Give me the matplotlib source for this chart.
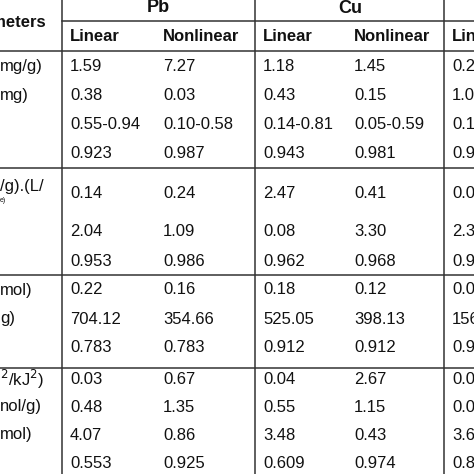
import matplotlib.pyplot as plt

# Table contents (cropped reference: left labels and third metal column are cut off)
param_labels = ["mg/g)", "mg)", "", "",
                "/g).(L/", "", "",
                "mol)", "g)", "",
                "$^2$/kJ$^2$)", "nol/g)", "mol)", ""]
pb_linear = ["1.59", "0.38", "0.55-0.94", "0.923",
             "0.14", "2.04", "0.953",
             "0.22", "704.12", "0.783",
             "0.03", "0.48", "4.07", "0.553"]
pb_nonlinear = ["7.27", "0.03", "0.10-0.58", "0.987",
                "0.24", "1.09", "0.986",
                "0.16", "354.66", "0.783",
                "0.67", "1.35", "0.86", "0.925"]
cu_linear = ["1.18", "0.43", "0.14-0.81", "0.943",
             "2.47", "0.08", "0.962",
             "0.18", "525.05", "0.912",
             "0.04", "0.55", "3.48", "0.609"]
cu_nonlinear = ["1.45", "0.15", "0.05-0.59", "0.981",
                "0.41", "3.30", "0.968",
                "0.12", "398.13", "0.912",
                "2.67", "1.15", "0.43", "0.974"]
third_linear = ["0.26", "1.05", "0.12-0.9", "0.95",
                "0.03", "2.31", "0.97",
                "0.05", "156.2", "0.91",
                "0.02", "0.06", "3.62", "0.85"]

row_y = [66, 95, 124, 153, 193, 231, 261, 290, 319, 348, 379, 407, 435, 464]
group_lines = [168, 275, 368]

fig = plt.figure(figsize=(4.74, 4.74), dpi=100)
ax = fig.add_axes([0, 0, 1, 1])
ax.set_xlim(0, 474)
ax.set_ylim(474, 0)
ax.axis("off")

font = dict(family=["Liberation Sans", "DejaVu Sans"], fontsize=12, color="#111111")
lc = "#333333"

# grid lines
for x in [62, 255, 444]:
    ax.plot([x, x], [0, 474], color=lc, lw=1.1)
ax.plot([62, 474], [21, 21], color=lc, lw=1.1)
ax.plot([0, 474], [51, 51], color=lc, lw=1.1)
for y in group_lines:
    ax.plot([0, 474], [y, y], color=lc, lw=1.1)

# headers
ax.text(47, 22, "Parameters", ha="right", va="center", fontweight="bold", **font)
ax.text(158, 7, "Pb", ha="center", va="center", fontweight="bold",
        family=["Liberation Sans"], fontsize=13, color="#111111")
ax.text(350, 8, "Cu", ha="center", va="center", fontweight="bold",
        family=["Liberation Sans"], fontsize=13, color="#111111")
for x0, lab in [(70, "Linear"), (163, "Nonlinear"), (263, "Linear"), (354, "Nonlinear"), (452, "Linear")]:
    ax.text(x0, 36, lab, ha="left", va="center", fontweight="bold", **font)

# left labels (cut at the edge)
for y, lab in zip(row_y, param_labels):
    if lab:
        yy = 186 if lab.startswith("/g") else y
        ax.text(0, yy, lab, ha="left", va="center", **font)
ax.text(0, 200, "e)", ha="left", va="center", family="Liberation Sans", fontsize=5, color="#111111")

# values
for x0, col in [(70, pb_linear), (163, pb_nonlinear), (263, cu_linear),
                (354, cu_nonlinear), (452, third_linear)]:
    for y, v in zip(row_y, col):
        ax.text(x0, y, v, ha="left", va="center", clip_on=True, **font)

fig.savefig("out.png", dpi=100)
